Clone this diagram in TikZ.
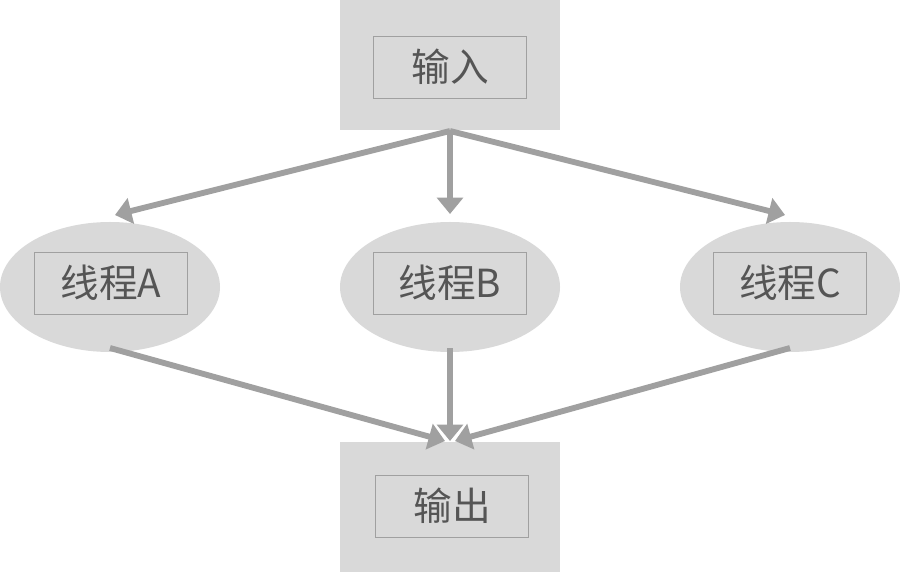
\documentclass[tikz,border=0pt]{standalone}
\usepackage{fontspec}
\setmainfont{Noto Sans CJK SC}
\usetikzlibrary{positioning}
\usetikzlibrary{shapes.geometric}
\usetikzlibrary{arrows.meta}
\definecolor{boxgray}{HTML}{D9D9D9}
\definecolor{linegray}{HTML}{A0A0A0}
\definecolor{txtgray}{HTML}{555555}
\tikzstyle{outer} = [fill=boxgray, draw=none, rectangle, minimum width=6.6cm, minimum height=3.9cm]
\tikzstyle{thread} = [fill=boxgray, draw=none, ellipse, minimum width=6.6cm, minimum height=3.9cm]
\tikzstyle{label} = [draw=linegray, thin, rectangle, minimum width=4.6cm, minimum height=1.85cm, text=txtgray, font=\fontsize{33}{35}\selectfont]
\tikzstyle{flow} = [draw=linegray, line width=5pt, -{Triangle[length=14pt,width=22pt]}]

\begin{document}
\begin{tikzpicture}[x=0.03cm, y=-0.03cm]
\useasboundingbox (0,0) rectangle (900,572);
\fill[white] (0,0) rectangle (900,572);

\node[outer] (in) at (450,65) {};
\node[label] (inl) at (450,67) {输入};

\node[thread] (ta) at (110,287) {};
\node[thread] (tb) at (450,287) {};
\node[thread] (tc) at (790,287) {};
\node[label] (la) at (111,283) {线程A};
\node[label] (lb) at (450,283) {线程B};
\node[label] (lc) at (790,283) {线程C};

\node[outer] (out) at (450,507) {};
\node[label] (outl) at (452,506) {输出};

\coordinate (inb) at (450,131);
\coordinate (ina) at (115,215);
\coordinate (inbb) at (450,214);
\coordinate (inc) at (785,215);
\draw[flow] (inb) -- (ina);
\draw[flow] (inb) -- (inbb);
\draw[flow] (inb) -- (inc);

\coordinate (oa) at (110,348);
\coordinate (ob) at (450,348);
\coordinate (oc) at (790,348);
\draw[flow] (oa) -- (445,441);
\draw[flow] (ob) -- (450,441);
\draw[flow] (oc) -- (455,441);

\node[text=white, font=\fontsize{19}{20}\selectfont, anchor=east] (mark) at (880,537) {知乎 @老司机带我飞};
\end{tikzpicture}
\end{document}
